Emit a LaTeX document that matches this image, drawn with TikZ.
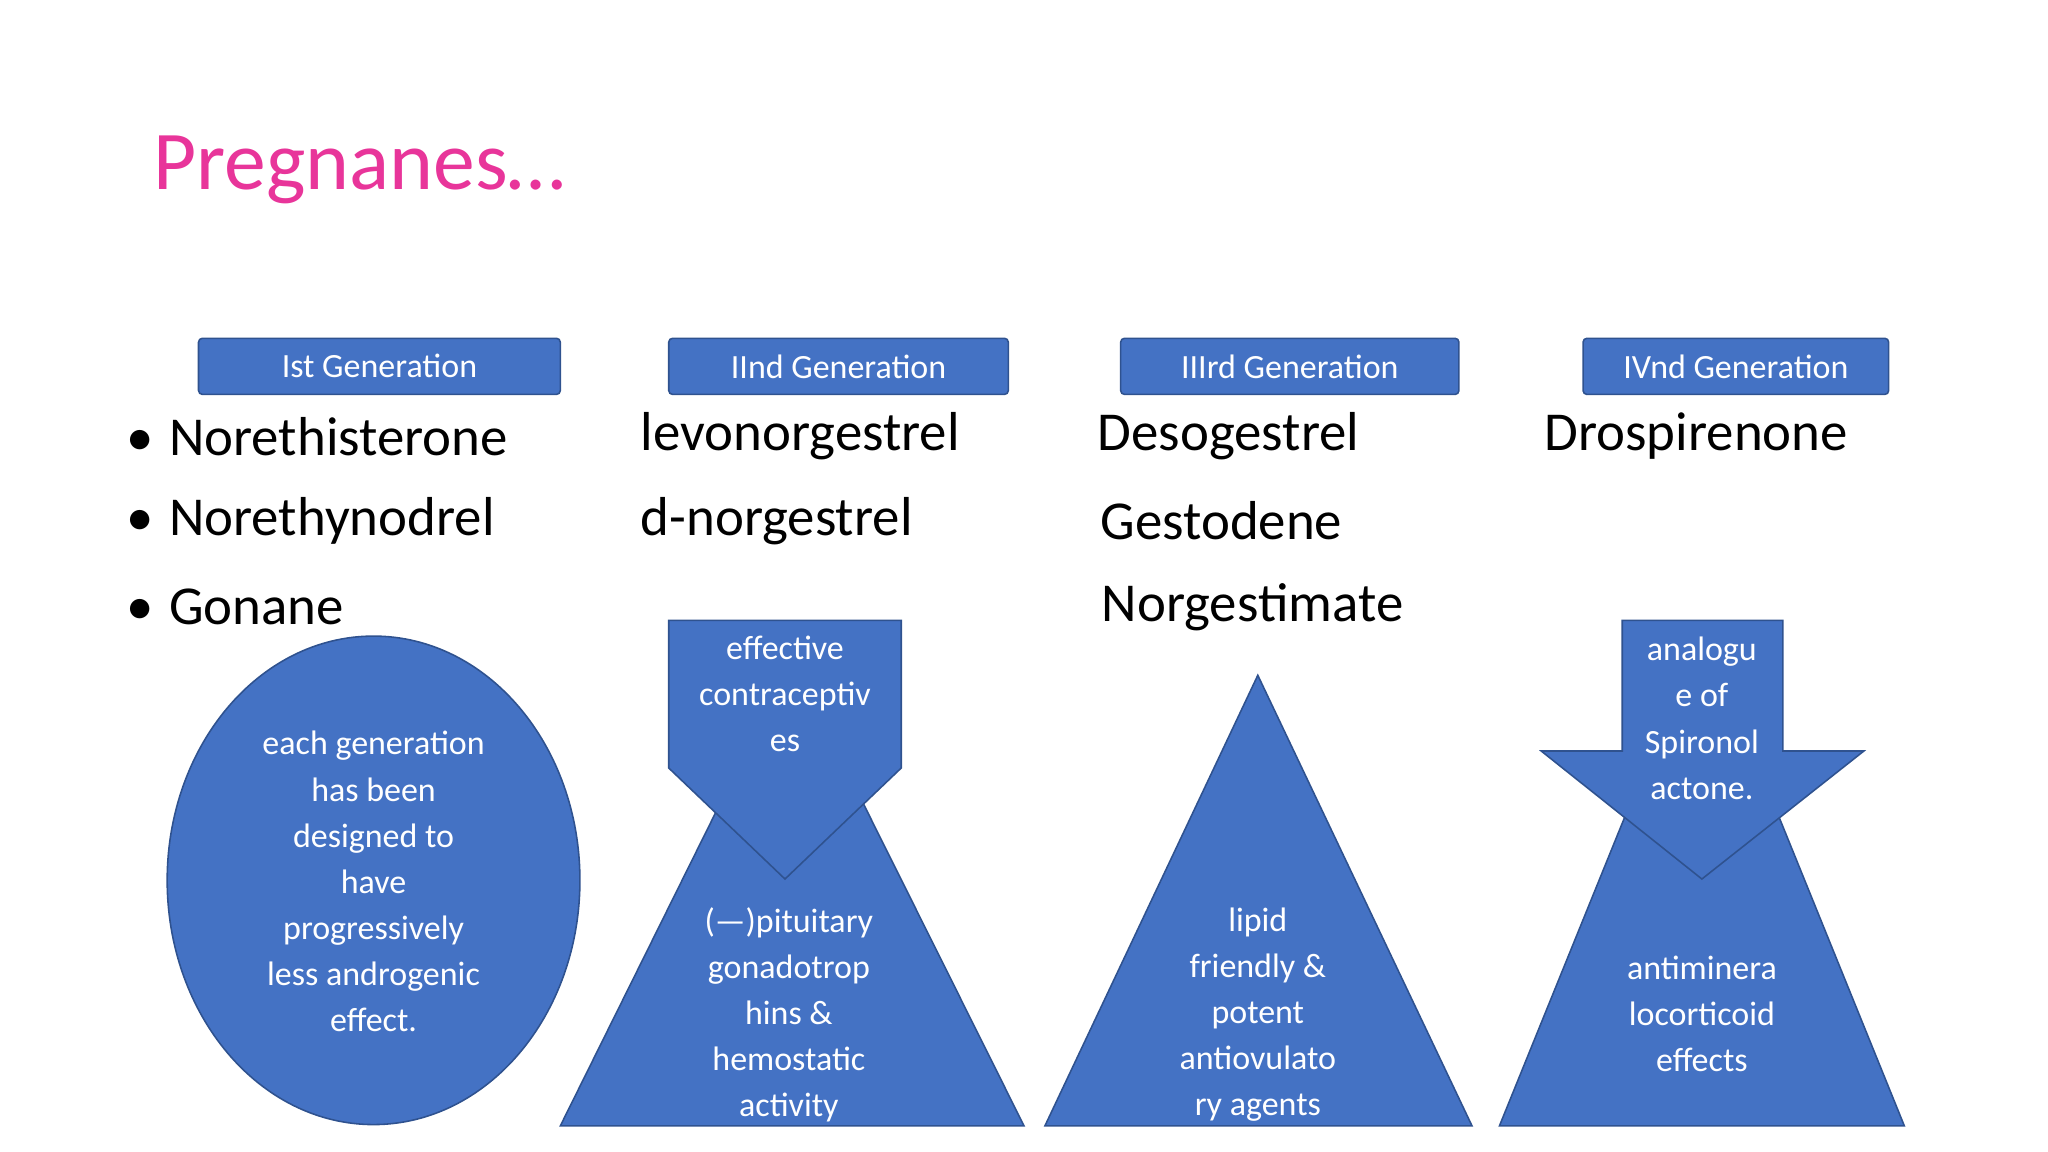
\documentclass[tikz,border=0pt]{standalone}
\usepackage{fontspec}
\setmainfont{Carlito}
\definecolor{blu}{HTML}{4472C4}
\definecolor{bord}{HTML}{2F528F}
\definecolor{pink}{HTML}{E8359A}
\begin{document}
\begin{tikzpicture}[x=1pt,y=-1pt,
  hdr/.style={draw=bord,fill=blu,line width=1.2pt,rounded corners=3pt,text=white,font=\fontsize{26}{30}\selectfont,inner sep=0pt},
  shp/.style={draw=bord,fill=blu,line width=1.2pt},
  wt/.style={text=white,align=center,font=\fontsize{26}{35.3}\selectfont},
  big/.style={anchor=west,font=\fontsize{42}{48}\selectfont}]
\useasboundingbox (0,0) rectangle (1568,882);
\node[anchor=west,text=pink,font=\fontsize{64}{70}\selectfont] (title) at (114,130) {Pregnanes…};
\node[hdr,minimum width=277pt,minimum height=43pt] (h1) at (290.5,280.5) {Ist Generation};
\node[hdr,minimum width=260pt,minimum height=43pt] (h2) at (642,280.5) {IInd Generation};
\node[hdr,minimum width=259pt,minimum height=43pt] (h3) at (987.5,280.5) {IIIrd Generation};
\node[hdr,minimum width=234pt,minimum height=43pt] (h4) at (1329,280.5) {IVnd Generation};
\foreach \t/\y [count=\i] in {Norethisterone/334,Norethynodrel/399,Gonane/465}{
  \node[big] (b\i) at (93,\y) {•\hspace{12pt}\t};}
\node[big] (c1) at (487,334) {levonorgestrel};
\node[big] (c2) at (487,399) {d-norgestrel};
\node[big] (d1) at (837,334) {Desogestrel};
\node[big] (d2) at (839,399) {Gestodene};
\node[big] (d3) at (840,465) {Norgestimate};
\node[big] (e1) at (1179,334) {Drospirenone};
% ellipse
\draw[shp] (286,674) ellipse (158 and 187);
\node[wt] (et) at (286,675) {each generation\\has been\\designed to\\have\\progressively\\less androgenic\\effect.};
% triangles
\draw[shp] (429,862) -- (606,505) -- (784,862) -- cycle;
\draw[shp] (800,862) -- (963,517) -- (1127,862) -- cycle;
\draw[shp] (1148,862) -- (1303,480) -- (1458,862) -- cycle;
% arrows
\draw[shp] (512,475) -- (690,475) -- (690,588) -- (601,673) -- (512,588) -- cycle;
\draw[shp] (1242,475) -- (1365,475) -- (1365,575) -- (1427,575) -- (1303,673) -- (1180,575) -- (1242,575) -- cycle;
\node[wt] (a2) at (601,531) {effective\\contraceptiv\\es};
\node[wt] (a4) at (1303,550) {analogu\\e of\\Spironol\\actone.};
\node[wt] (t2) at (604,777) {(---)pituitary\\gonadotrop\\hins \&\\hemostatic\\activity};
\node[wt] (t3) at (963,777) {lipid\\friendly \&\\potent\\antiovulato\\ry agents};
\node[wt] (t4) at (1303,776) {antiminera\\locorticoid\\effects};
\end{tikzpicture}
\end{document}
